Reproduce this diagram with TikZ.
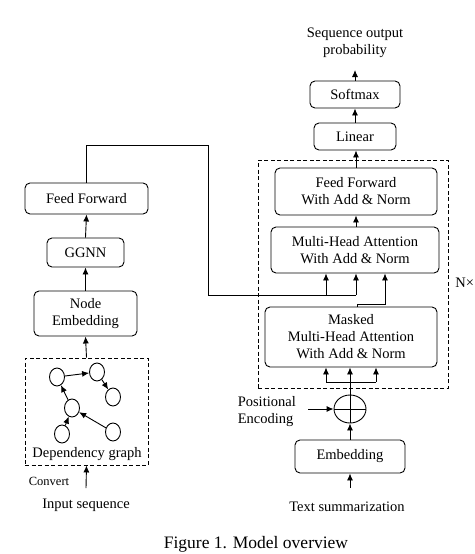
\documentclass[tikz,border=0pt]{standalone}
\usepackage{fontspec}
\setmainfont{Liberation Serif}
\usetikzlibrary{arrows,arrows.meta,shapes.geometric}
\tikzset{
    oplus/.style={
        draw, ellipse, minimum width=32pt, minimum height=28pt,
        inner sep=0pt, line width=0.9pt,
        path picture = {
            \draw[black]
            (path picture bounding box.north) --
            (path picture bounding box.south)
            (path picture bounding box.west) --
            (path picture bounding box.east);
        }
    }
}
\begin{document}
\begin{tikzpicture}[
        x=1pt, y=-1pt,
        block/.style={
            draw, rounded corners=5pt, align=center,
            inner sep=2pt, line width=0.9pt
        },
        dashbox/.style={
            draw, dash pattern=on 4pt off 2.5pt, line width=0.9pt
        },
        gnode/.style={
            draw, ellipse, minimum width=15pt, minimum height=18pt,
            inner sep=0pt, line width=0.9pt
        },
        >={Latex[length=7pt,width=6pt]}, line width=0.9pt,
        font=\fontsize{14.5}{17}\selectfont
      ]
    \useasboundingbox (0,0) rectangle (474,554);

    % decoder side
    \node[align=center] (out) at (355,43) {Sequence output\\probability};
    \node[block, minimum width=90pt, minimum height=27pt] (softmax) at (355,94.5) {Softmax};
    \node[block, minimum width=82pt, minimum height=27pt] (linear) at (355,136.5) {Linear};
    \node[dashbox, minimum width=190pt, minimum height=228pt] (layer) at (353,274) {};
    \node[block, minimum width=162pt, minimum height=47pt] (rff) at (356,191.5) {Feed Forward\\With Add \& Norm};
    \node[block, minimum width=168pt, minimum height=46pt] (mha) at (355,250) {Multi-Head Attention\\With Add \& Norm};
    \node[block, minimum width=172pt, minimum height=60pt] (masked) at (351,337) {Masked\\Multi-Head Attention\\With Add \& Norm};
    \node[anchor=west, inner sep=0pt] (nx) at (455,283) {N×};
    \node[oplus] (pe) at (350,409) {};
    \node[align=left, anchor=west] (pos) at (234,412) {Positional\\Encoding};
    \node[block, minimum width=110pt, minimum height=33pt] (emb) at (350,456.5) {Embedding};
    \node (txt) at (347,507) {Text summarization};

    % encoder side
    \node[block, minimum width=123pt, minimum height=31pt] (lff) at (86.5,198.5) {Feed Forward};
    \node[block, minimum width=77pt, minimum height=29pt] (ggnn) at (85.5,252.5) {GGNN};
    \node[block, minimum width=103pt, minimum height=45pt] (nemb) at (85.5,313.5) {Node\\Embedding};
    \node[dashbox, minimum width=123pt, minimum height=107pt] (dep) at (86.5,411.5) {};
    \node[gnode] (n1) at (57,377) {};
    \node[gnode] (n2) at (97,372) {};
    \node[gnode] (n3) at (113,397) {};
    \node[gnode] (n4) at (72,408) {};
    \node[gnode] (n5) at (62,434) {};
    \node[gnode] (n6) at (113,432) {};
    \node (deplabel) at (87,454) {Dependency graph};
    \node[font=\fontsize{12.5}{14}\selectfont] (conv) at (49,481) {Convert};
    \node (inp) at (86,505) {Input sequence};

    \coordinate (inpTop) at (86,488);
    \coordinate (txtTop) at (350,488);
    \coordinate (outBot) at (355,70);
    \coordinate (peIn) at (308,409);
    \coordinate (bend) at (208,145);
    \coordinate (kin) at (326,295);
    \coordinate (vin) at (356,295);
    \coordinate (qfoot) at (357,307);
    \coordinate (qturn) at (385,304);
    \coordinate (sleft) at (326,382);
    \coordinate (sright) at (376,382);

    % graph edges
    \draw[->] (n1) -- (n2);
    \draw[->] (n2) -- (n3);
    \draw[->] (n4) -- (n1);
    \draw[->] (n5) -- (n4);
    \draw[->] (n6) -- (n4);

    % encoder flow
    \draw[->] (inpTop) -- (dep.south);
    \draw[->] (dep.north) -- (nemb.south);
    \draw[->] (nemb.north) -- (ggnn.south);
    \draw[->] (ggnn.north) -- (lff.south);
    \draw (lff.north) |- (bend) |- (vin);
    \draw[->] (kin) -- (kin |- mha.south);
    \draw[->] (vin) -- (vin |- mha.south);

    % decoder flow
    \draw[->] (txtTop) -- (emb.south);
    \draw[->] (emb.north) -- (pe.south);
    \draw[->] (peIn) -- (pe.west);
    \draw[->] (pe.north) -- (pe.north |- masked.south);
    \draw (sleft) -- (sright);
    \draw[->] (sleft) -- (sleft |- masked.south);
    \draw[->] (sright) -- (sright |- masked.south);
    \draw[->] (qfoot) |- (qturn) -- (qturn |- mha.south);
    \draw[->] (mha.north -| rff.south) -- (rff.south);
    \draw[->] (rff.north) -- (rff.north |- linear.south);
    \draw[->] (linear.north) -- (softmax.south);
    \draw[->] (softmax.north) -- (outBot);

    \node[font=\fontsize{17.5}{20}\selectfont] (caption) at (256,544) {Figure 1. Model overview};

\end{tikzpicture}
\end{document}
